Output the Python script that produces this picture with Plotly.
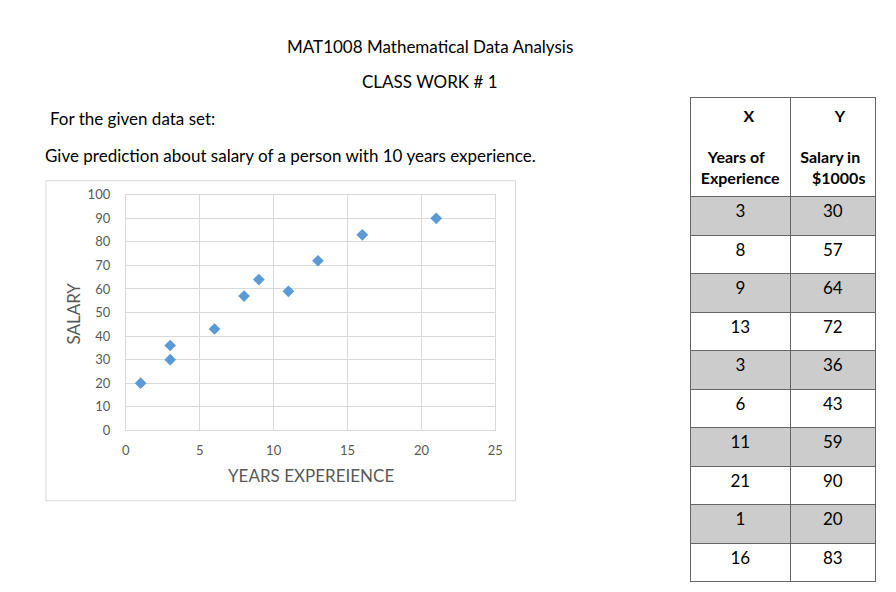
import plotly.graph_objects as go

# Data
years = [3, 8, 9, 13, 3, 6, 11, 21, 1, 16]
salary = [30, 57, 64, 72, 36, 43, 59, 90, 20, 83]
x_ticks = [0, 5, 10, 15, 20, 25]
y_ticks = [0, 10, 20, 30, 40, 50, 60, 70, 80, 90, 100]
NB = "&nbsp;"
header_x = "<b>" + NB * 11 + "X<br><br>" + NB * 2 + "Years of<br>Experience</b>"
header_y = "<b>" + NB * 9 + "Y<br><br>Salary in<br>" + NB * 3 + "$1000s</b>"

W, H = 896, 592
FONT = "Lato"
GRID = "#d9d9d9"
TICKC = "#595959"

def px(x):
    return x / W

def py(y):
    return 1 - y / H

fig = go.Figure()

fig.add_trace(go.Scatter(
    x=years, y=salary, mode="markers",
    marker=dict(symbol="diamond", size=9, color="#5b9bd5"),
    showlegend=False, xaxis="x", yaxis="y",
))

row_fill = ["#cccccc" if i % 2 == 0 else "white" for i in range(len(years))]
fig.add_trace(go.Table(
    domain=dict(x=[px(696), px(884)], y=[py(591), py(92)]),
    columnwidth=[101, 87],
    header=dict(
        values=[header_x, header_y],
        fill_color="white",
        line=dict(color="#666666", width=1),
        align="center",
        height=99,
        font=dict(family=FONT, size=16, color="black"),
    ),
    cells=dict(
        values=[[str(v) for v in years], [str(v) for v in salary]],
        fill_color=[row_fill, row_fill],
        line=dict(color="#666666", width=1),
        align="center",
        height=38.5,
        font=dict(family=FONT, size=17, color="black"),
    ),
))

fig.update_layout(
    width=W, height=H,
    margin=dict(l=0, r=0, t=0, b=0),
    paper_bgcolor="white", plot_bgcolor="white",
    font=dict(family=FONT),
    xaxis=dict(
        domain=[px(123.5), px(498)], range=[0, 25],
        tickvals=x_ticks, ticktext=[str(v) for v in x_ticks],
        showgrid=True, gridcolor=GRID, gridwidth=1,
        zeroline=False, showline=True, mirror=True, linecolor=GRID,
        ticks="", ticklabelstandoff=8,
        tickfont=dict(family=FONT, size=13, color=TICKC),
        fixedrange=True,
    ),
    yaxis=dict(
        domain=[py(434), py(192)], range=[0, 100],
        tickvals=y_ticks, ticktext=[str(v) for v in y_ticks],
        showgrid=True, gridcolor=GRID, gridwidth=1,
        zeroline=False, showline=True, mirror=True, linecolor=GRID,
        ticks="", ticklabelstandoff=12,
        tickfont=dict(family=FONT, size=13, color=TICKC),
        fixedrange=True,
    ),
    shapes=[dict(type="rect", xref="paper", yref="paper",
                 x0=px(42.5), x1=px(518.5), y0=py(506.5), y1=py(177.5),
                 line=dict(color=GRID, width=1), fillcolor="rgba(0,0,0,0)", layer="below")],
    annotations=[
        dict(text="MAT1008 Mathematical Data Analysis", x=px(432), y=py(40),
             xref="paper", yref="paper", showarrow=False, xanchor="center", yanchor="middle",
             font=dict(family=FONT, size=17, color="black")),
        dict(text="CLASS WORK # 1", x=px(432), y=py(76),
             xref="paper", yref="paper", showarrow=False, xanchor="center", yanchor="middle",
             font=dict(family=FONT, size=17, color="black")),
        dict(text="For the given data set:", x=px(45), y=py(114),
             xref="paper", yref="paper", showarrow=False, xanchor="left", yanchor="middle",
             font=dict(family=FONT, size=17, color="black")),
        dict(text="Give prediction about salary of a person with 10 years experience.", x=px(40), y=py(152),
             xref="paper", yref="paper", showarrow=False, xanchor="left", yanchor="middle",
             font=dict(family=FONT, size=17, color="black")),
        dict(text="SALARY", x=px(70), y=py(314), textangle=-90,
             xref="paper", yref="paper", showarrow=False, xanchor="center", yanchor="middle",
             font=dict(family=FONT, size=17, color=TICKC)),
        dict(text="YEARS EXPEREIENCE", x=px(311), y=py(480),
             xref="paper", yref="paper", showarrow=False, xanchor="center", yanchor="middle",
             font=dict(family=FONT, size=17, color=TICKC)),
    ],
)

fig.write_html("out.html")
